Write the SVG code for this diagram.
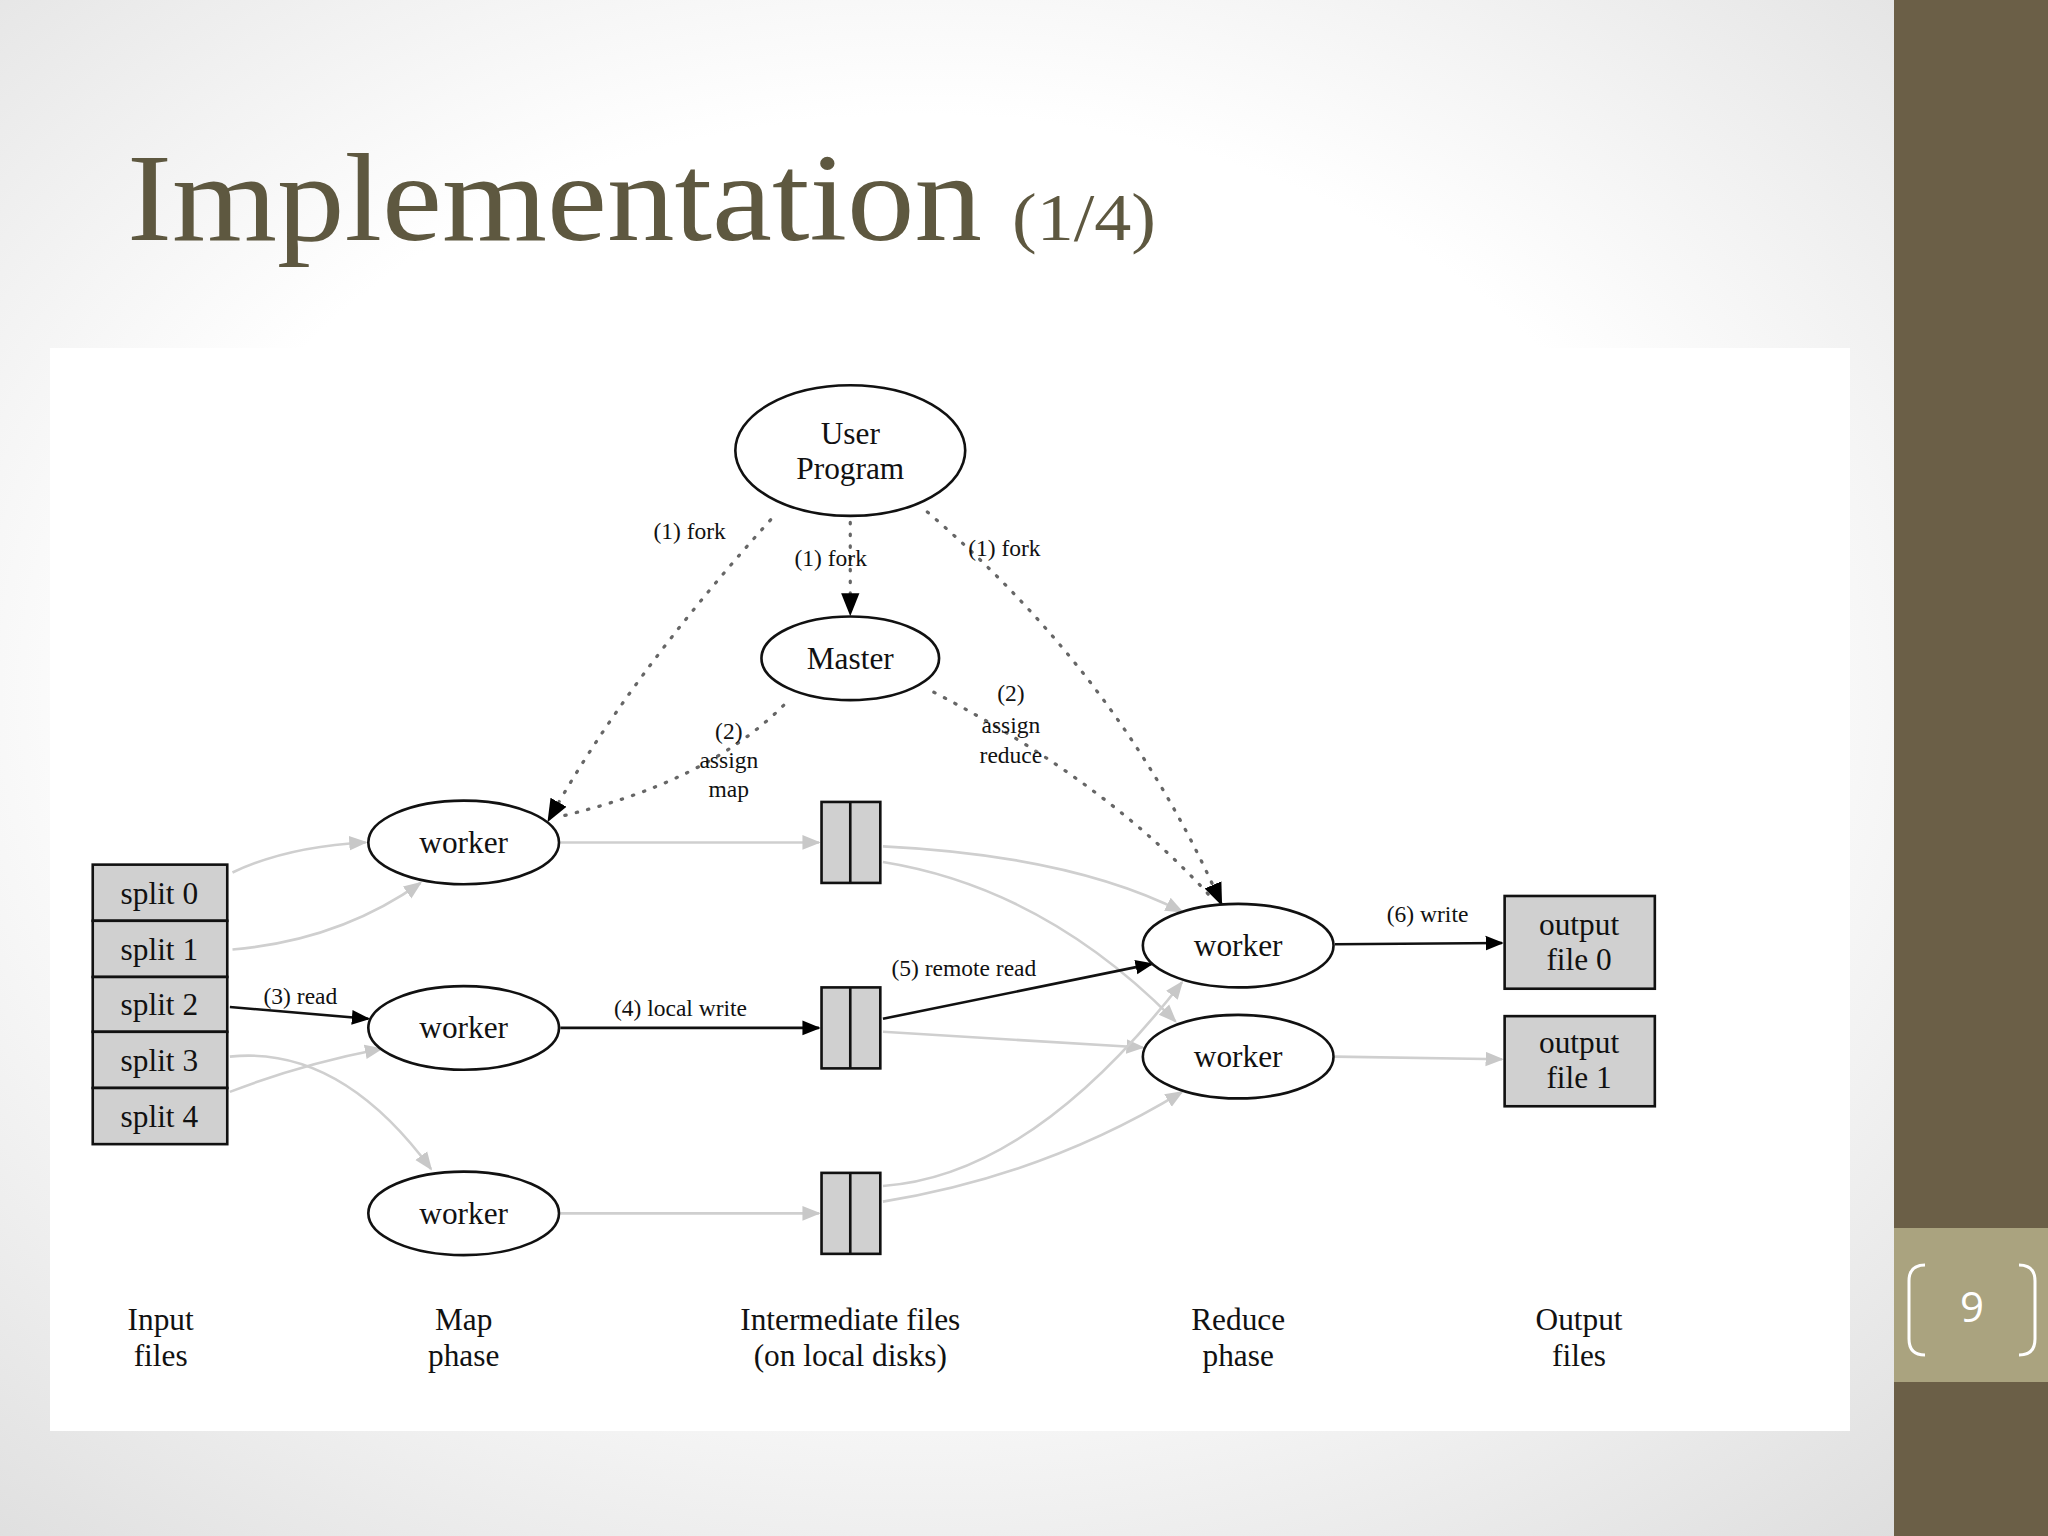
<svg xmlns="http://www.w3.org/2000/svg" width="2048" height="1536" viewBox="0 0 2048 1536">
<defs>
<radialGradient id="bg" cx="0.45" cy="0.45" r="0.75"><stop offset="0.5" stop-color="#ffffff"/><stop offset="1" stop-color="#dcdcdc"/></radialGradient>
<marker id="ab" viewBox="0 0 10 10" refX="9" refY="5" markerWidth="7" markerHeight="7" orient="auto"><path d="M0,1 L10,5 L0,9 z" fill="#000"/></marker>
<marker id="ag" viewBox="0 0 10 10" refX="9" refY="5" markerWidth="7" markerHeight="7" orient="auto"><path d="M0,1 L10,5 L0,9 z" fill="#c8c8c8"/></marker>
<style>
.t{font-family:"Liberation Serif",serif;font-size:24px;fill:#111;text-anchor:middle}
.s{font-family:"Liberation Serif",serif;font-size:18px;fill:#111;text-anchor:middle}
.e{fill:#fff;stroke:#111;stroke-width:2}
.b{fill:#d0d0d0;stroke:#111;stroke-width:2}
.g{fill:none;stroke:#cfcfcf;stroke-width:2;marker-end:url(#ag)}
.k{fill:none;stroke:#111;stroke-width:2;marker-end:url(#ab)}
.d{fill:none;stroke:#666;stroke-width:2.5;stroke-dasharray:1 8;stroke-linecap:round}
</style>
</defs>
<rect width="2048" height="1536" fill="url(#bg)"/>
<rect x="1894" y="0" width="154" height="1536" fill="#6b5f47"/>
<rect x="1894" y="1228" width="154" height="154" fill="#aaa37f"/>
<text x="1972" y="1322" font-family="Open Sans, sans-serif" font-size="42" fill="#fff" text-anchor="middle">9</text>
<path d="M1925,1265 q-16,0 -16,16 v58 q0,16 16,16" fill="none" stroke="#fff" stroke-width="3"/>
<path d="M2019,1265 q16,0 16,16 v58 q0,16 -16,16" fill="none" stroke="#fff" stroke-width="3"/>
<text x="127" y="240" font-family="Liberation Serif, serif" font-size="124" fill="#5e5840" textLength="855" lengthAdjust="spacingAndGlyphs">Implementation</text>
<text x="1012" y="240" font-family="Liberation Serif, serif" font-size="68" fill="#5e5840" textLength="144" lengthAdjust="spacingAndGlyphs">(1/4)</text>
<rect x="50" y="348" width="1800" height="1083" fill="#fff"/>
<g transform="scale(1.3061)">
<g id="connectors">
<path class="d" d="M590,398 Q480,520 420,628" marker-end="url(#ab)"/>
<path class="d" d="M651,400 L651,470" marker-end="url(#ab)"/>
<path class="d" d="M710,392 Q860,520 935,692" marker-end="url(#ab)"/>
<path class="d" d="M600,540 Q540,600 425,626"/>
<path class="d" d="M715,530 Q850,600 930,690"/>
<path class="g" d="M178,668 Q220,648 280,645"/>
<path class="g" d="M178,727 Q260,720 322,676"/>
<path class="k" d="M176,771 L282,780"/>
<path class="g" d="M176,809 Q260,800 330,895"/>
<path class="g" d="M176,836 Q230,815 292,803"/>
<path class="g" d="M429,645 L627,645"/>
<path class="k" d="M429,787 L627,787"/>
<path class="g" d="M429,929 L627,929"/>
<path class="g" d="M676,648 Q820,655 905,698"/>
<path class="g" d="M676,660 Q800,680 900,782"/>
<path class="k" d="M676,780 L882,738"/>
<path class="g" d="M676,790 L875,802"/>
<path class="g" d="M676,908 Q790,900 905,752"/>
<path class="g" d="M676,920 Q800,900 905,836"/>
<path class="k" d="M1022,723 L1150,722"/>
<path class="g" d="M1022,809 L1150,811"/>
</g>
<text class="s" x="528" y="413">(1) fork</text>
<text class="s" x="636" y="433">(1) fork</text>
<text class="s" x="769" y="426">(1) fork</text>
<text class="s" x="558" y="566">(2)</text><text class="s" x="558" y="588">assign</text><text class="s" x="558" y="610">map</text>
<text class="s" x="774" y="537">(2)</text><text class="s" x="774" y="561">assign</text><text class="s" x="774" y="584">reduce</text>
<text class="s" x="230" y="769">(3) read</text>
<text class="s" x="521" y="778">(4) local write</text>
<text class="s" x="738" y="747">(5) remote read</text>
<text class="s" x="1093" y="706">(6) write</text>
<g id="user"><ellipse class="e" cx="651" cy="345" rx="88" ry="50"/><text class="t" x="651" y="340">User</text><text class="t" x="651" y="367">Program</text></g>
<g id="master"><ellipse class="e" cx="651" cy="504" rx="68" ry="32"/><text class="t" x="651" y="512">Master</text></g>
<g id="mw1"><ellipse class="e" cx="355" cy="645" rx="73" ry="32"/><text class="t" x="355" y="653">worker</text></g>
<g id="mw2"><ellipse class="e" cx="355" cy="787" rx="73" ry="32"/><text class="t" x="355" y="795">worker</text></g>
<g id="mw3"><ellipse class="e" cx="355" cy="929" rx="73" ry="32"/><text class="t" x="355" y="937">worker</text></g>
<g id="rw1"><ellipse class="e" cx="948" cy="724" rx="73" ry="32"/><text class="t" x="948" y="732">worker</text></g>
<g id="rw2"><ellipse class="e" cx="948" cy="809" rx="73" ry="32"/><text class="t" x="948" y="817">worker</text></g>
<g id="splits">
<rect class="b" x="71" y="662" width="103" height="43"/><text class="t" x="122" y="692">split 0</text>
<rect class="b" x="71" y="705" width="103" height="43"/><text class="t" x="122" y="735">split 1</text>
<rect class="b" x="71" y="748" width="103" height="42"/><text class="t" x="122" y="777">split 2</text>
<rect class="b" x="71" y="790" width="103" height="43"/><text class="t" x="122" y="820">split 3</text>
<rect class="b" x="71" y="833" width="103" height="43"/><text class="t" x="122" y="863">split 4</text>
</g>
<g id="if1"><rect class="b" x="629" y="614" width="45" height="62"/><line x1="651" y1="614" x2="651" y2="676" stroke="#111" stroke-width="2"/></g>
<g id="if2"><rect class="b" x="629" y="756" width="45" height="62"/><line x1="651" y1="756" x2="651" y2="818" stroke="#111" stroke-width="2"/></g>
<g id="if3"><rect class="b" x="629" y="898" width="45" height="62"/><line x1="651" y1="898" x2="651" y2="960" stroke="#111" stroke-width="2"/></g>
<g id="out0"><rect class="b" x="1152" y="686" width="115" height="71"/><text class="t" x="1209" y="716">output</text><text class="t" x="1209" y="743">file 0</text></g>
<g id="out1"><rect class="b" x="1152" y="778" width="115" height="69"/><text class="t" x="1209" y="806">output</text><text class="t" x="1209" y="833">file 1</text></g>
<text class="t" x="123" y="1018">Input</text><text class="t" x="123" y="1046">files</text>
<text class="t" x="355" y="1018">Map</text><text class="t" x="355" y="1046">phase</text>
<text class="t" x="651" y="1018">Intermediate files</text><text class="t" x="651" y="1046">(on local disks)</text>
<text class="t" x="948" y="1018">Reduce</text><text class="t" x="948" y="1046">phase</text>
<text class="t" x="1209" y="1018">Output</text><text class="t" x="1209" y="1046">files</text>
</g>
</svg>
